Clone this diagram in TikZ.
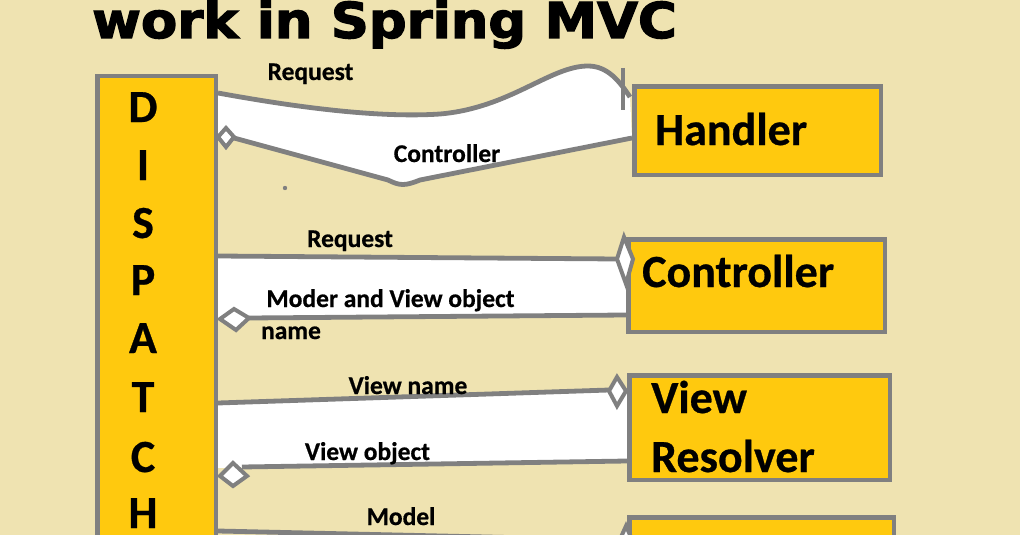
\documentclass[tikz,border=0pt]{standalone}
\usepackage{fontspec}
\setmainfont{Carlito}[BoldFeatures={FakeBold=0.6}]
\newfontfamily\titlefont{DejaVu Sans}[BoldFeatures={FakeBold=2.5}]
\definecolor{bgc}{RGB}{239,227,177}
\definecolor{gold}{RGB}{255,201,14}
\definecolor{lgray}{RGB}{128,128,128}
\begin{document}
\begin{tikzpicture}[x=1pt,y=-1pt,
 box/.style={draw=lgray,fill=gold,line width=4.5pt,rectangle,inner sep=0pt},
 btext/.style={font=\fontsize{46}{46}\selectfont\bfseries,anchor=base west,inner sep=0pt},
 dtext/.style={font=\fontsize{46}{46}\selectfont\bfseries,anchor=base,inner sep=0pt},
 ltext/.style={font=\fontsize{25.5}{25.5}\selectfont\bfseries,anchor=base,inner sep=0pt},
 conn/.style={draw=lgray,line width=4.8pt,line join=round},
 band/.style={fill=white},
 tail/.style={draw=lgray,fill=white,line width=4pt,line join=miter}]

\useasboundingbox (0,0) rectangle (1020,535);
\clip (0,0) rectangle (1020,535);
\fill[bgc] (0,0) rectangle (1020,535);

\node[anchor=base west,inner sep=0pt,font=\titlefont\bfseries\fontsize{48}{48}\selectfont] (title) at (92,38) {\scalebox{1.1}[1.03]{work in Spring MVC}};

% white bands
\fill[band] (216,93) .. controls (300,108) and (380,118) .. (440,114) .. controls (510,108) and (550,66) .. (588,66) .. controls (608,66) and (620,82) .. (630,97) -- (632,138) -- (420,180) .. controls (405,186) and (400,186) .. (388,180) -- (234,138) -- (216,134) -- cycle;
\fill[band] (216,256) -- (627,259) -- (627,315) -- (216,318) -- cycle;
\fill[band] (216,403) -- (627,389) -- (627,461) -- (216,468) -- cycle;

% boxes
\node[box,minimum width=118.5pt,minimum height=521.5pt] (disp) at (156.5,337) {};
\node[box,minimum width=246.5pt,minimum height=88.5pt] (handler) at (757.5,130.5) {};
\node[box,minimum width=256.5pt,minimum height=92.5pt] (ctrl) at (756.5,285.5) {};
\node[box,minimum width=260.5pt,minimum height=104.5pt] (vr) at (759.5,427.5) {};
\node[box,minimum width=264.5pt,minimum height=80.5pt] (vw) at (761.5,557.5) {};

% band 1
\draw[conn] (disp.east |- 0,93) .. controls (300,108) and (380,118) .. (440,114) .. controls (510,108) and (550,66) .. (588,66) .. controls (608,66) and (620,82) .. (630,97);
\draw[conn] (623,68) -- (623,110);
\draw[conn] (handler.west |- 0,138) -- (420,180) .. controls (405,186) and (400,186) .. (388,180) -- (234,138);
\draw[tail] (218,137) -- (226,128) -- (234,137) -- (226,147) -- cycle;
\fill[lgray] (285,188) circle (2.2);

% band 2
\draw[conn] (disp.east |- 0,256) -- (618,259);
\draw[tail] (617,259) -- (624,237) -- (633,259) -- (626,284) -- cycle;
\draw[conn] (ctrl.west |- 0,315) -- (249,318);
\draw[tail] (220,319) -- (234,309) -- (249,318) -- (236,330) -- cycle;

% band 3
\draw[conn] (disp.east |- 0,403) -- (609,390);
\draw[tail] (609,391) -- (617,377) -- (626,391) -- (617,406) -- cycle;
\draw[conn] (vr.west |- 0,461) -- (242,467);
\draw[tail] (220,476) -- (233,463) -- (247,476) -- (233,486) -- cycle;

% band 4
\draw[conn] (disp.east |- 0,531) -- (620,540);
\draw[tail] (617,546) -- (626,526) -- (635,546) -- (626,566) -- cycle;

% box texts
\node[btext] (thandler) at (655,145) {Handler};
\node[btext] (tctrl) at (642,287) {Controller};
\node[btext] (tview) at (651,413) {View};
\node[btext] (tres) at (651,472) {Resolver};
\foreach \l/\y [count=\i] in {D/122,I/180,S/238,P/295,A/353,T/412,C/472,H/528}
  \node[dtext] (dl\i) at (143,\y) {\l};

% labels
\node[ltext] (lreq1) at (310.5,80) {Request};
\node[ltext] (lctrl) at (447,162) {Controller};
\node[ltext] (lreq2) at (350,247) {Request};
\node[ltext] (lmv) at (390.5,307) {Moder and View object};
\node[ltext] (lname) at (291,339) {name};
\node[ltext] (lvn) at (408,394) {View name};
\node[ltext] (lvo) at (367.5,460) {View object};
\node[ltext] (lmod) at (401,525) {Model};
\end{tikzpicture}
\end{document}
